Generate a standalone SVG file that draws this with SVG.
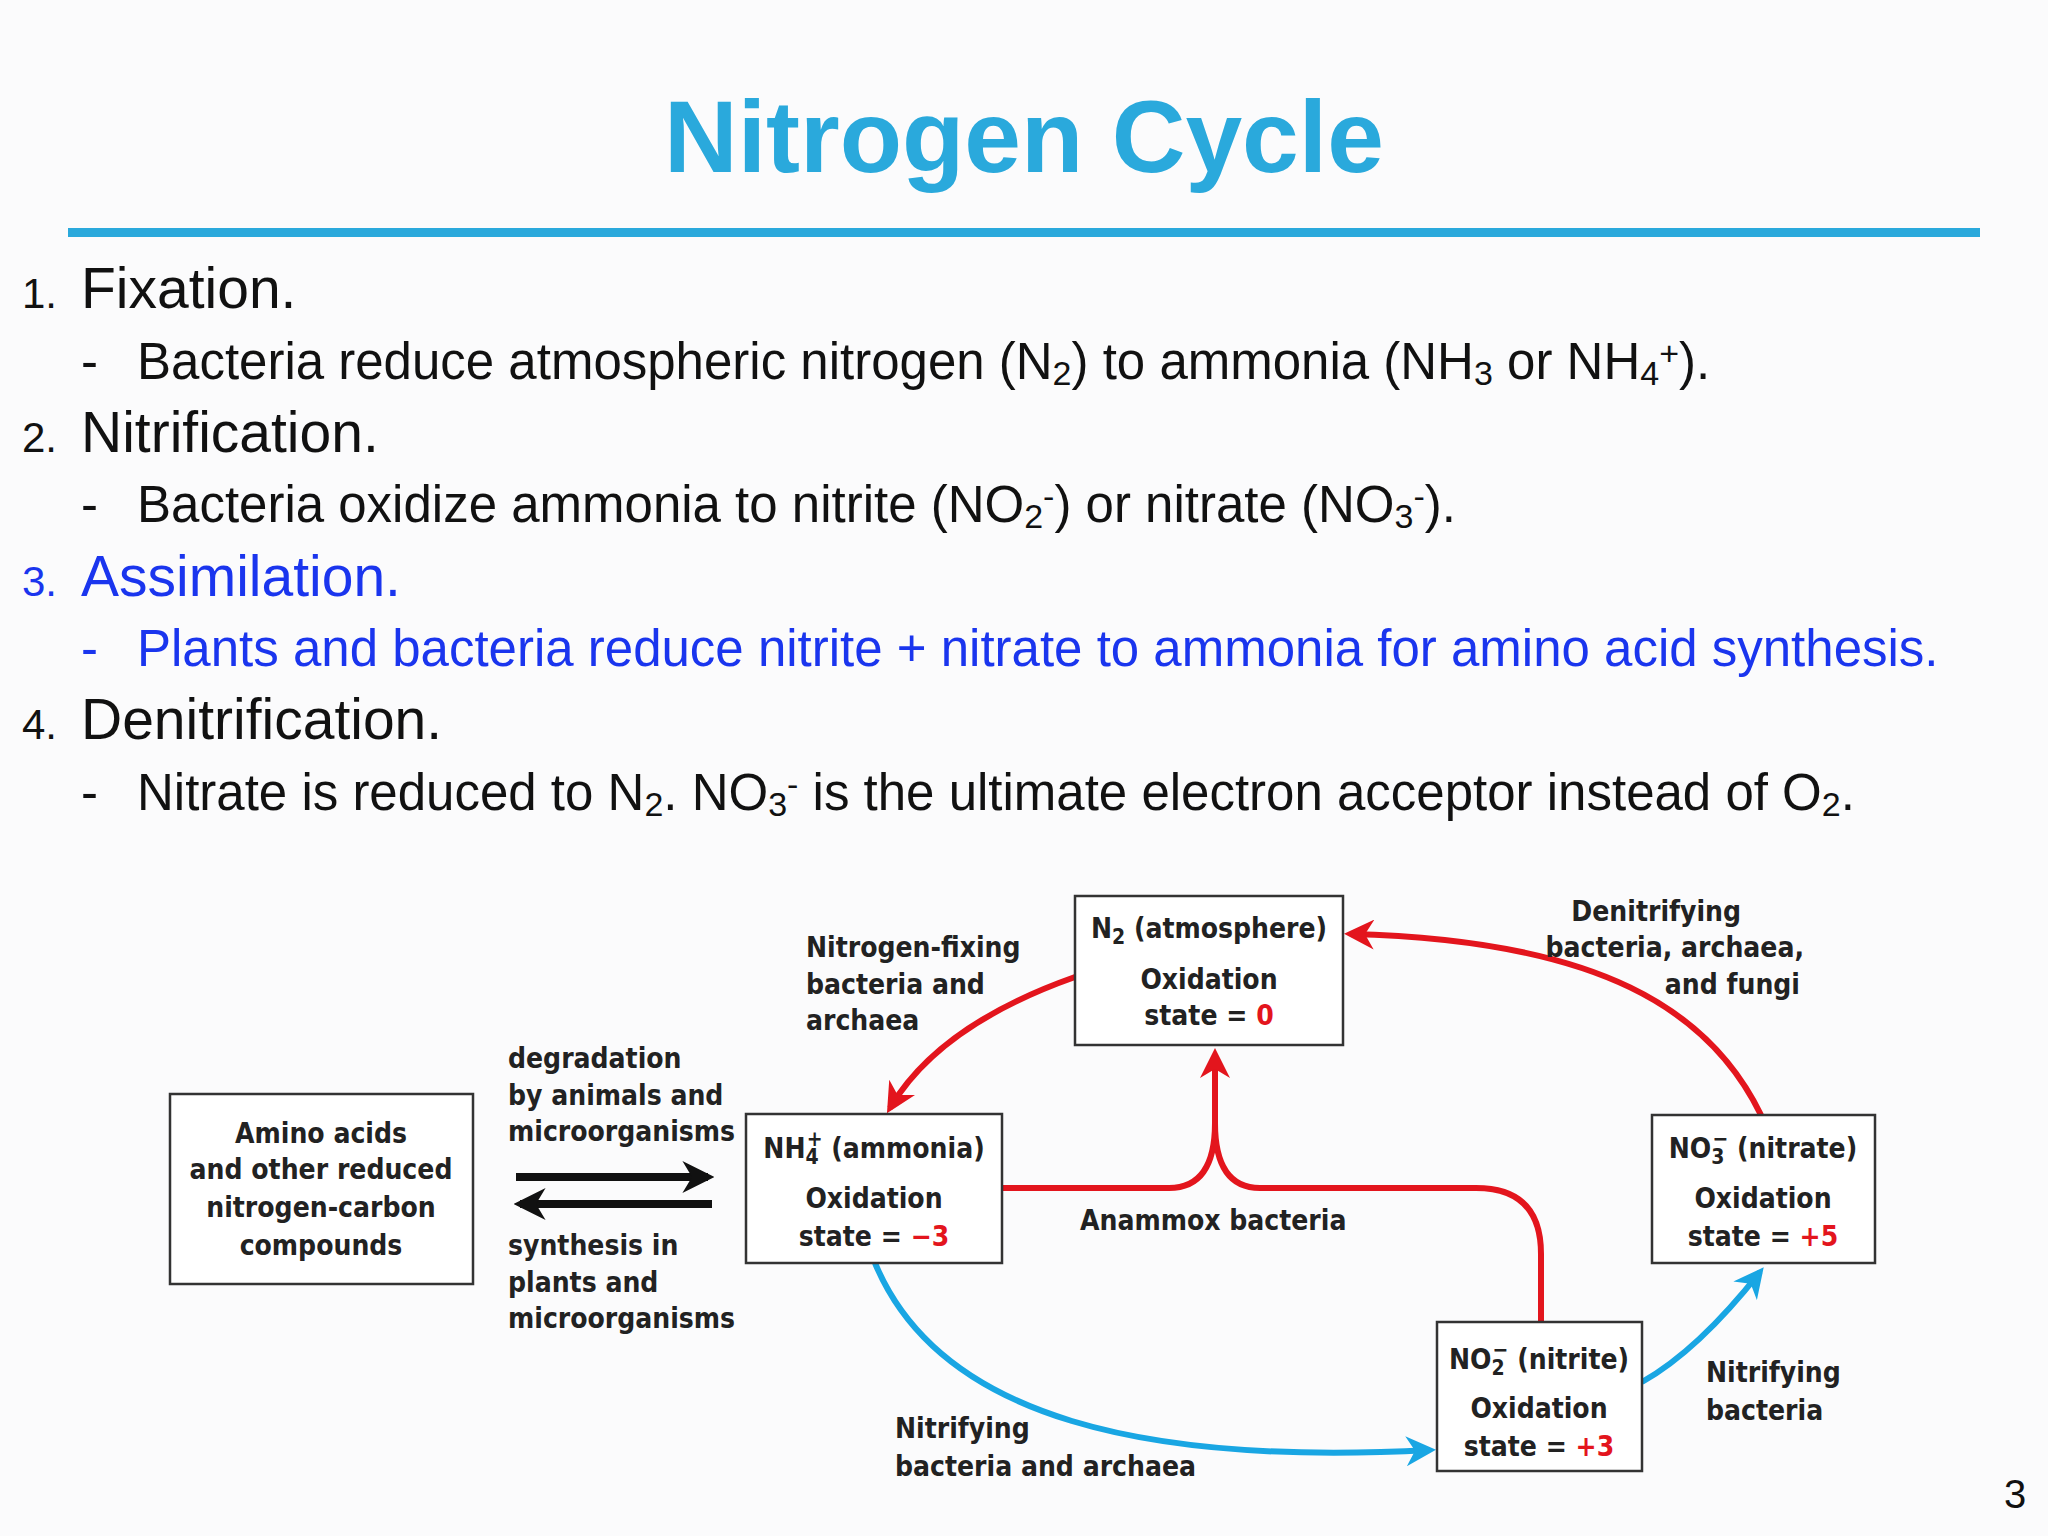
<svg xmlns="http://www.w3.org/2000/svg" width="2048" height="1536" viewBox="0 0 2048 1536">
<style>
.t{font-family:"Liberation Sans",Arial,sans-serif;fill:#111}
.n{font-size:42px}
.h{font-size:57px}
.s{font-size:51px}
.bl{fill:#1a35ee}
.d{font-family:"DejaVu Sans Condensed","Liberation Sans",sans-serif;font-weight:bold;font-size:28px;fill:#222}
.r{fill:#e3151d}
.box{fill:#fff;stroke:#333;stroke-width:2.5}
.red{fill:none;stroke:#e3151d;stroke-width:6}
.blue{fill:none;stroke:#19a6e3;stroke-width:6}
</style>
<defs>
<marker id="ar" viewBox="0 0 10 10" refX="8" refY="5" markerWidth="5" markerHeight="5" orient="auto" markerUnits="strokeWidth"><path d="M0,0 L10,5 L0,10 L3,5 Z" fill="#e3151d"/></marker>
<marker id="ab" viewBox="0 0 10 10" refX="8" refY="5" markerWidth="5" markerHeight="5" orient="auto" markerUnits="strokeWidth"><path d="M0,0 L10,5 L0,10 L3,5 Z" fill="#19a6e3"/></marker>
<marker id="ak" viewBox="0 0 10 10" refX="8" refY="5" markerWidth="4" markerHeight="4" orient="auto" markerUnits="strokeWidth"><path d="M0,0 L10,5 L0,10 L3,5 Z" fill="#111"/></marker>
</defs>
<rect width="2048" height="1536" fill="#fbfbfc"/>
<text x="1024" y="172" text-anchor="middle" style="font-family:'Liberation Sans',Arial,sans-serif;font-weight:bold;font-size:102px;fill:#2aa9dc">Nitrogen Cycle</text>
<rect x="68" y="228" width="1912" height="9" fill="#2aa9dc"/>
<g id="list">
<text class="t n" x="22" y="308">1.</text><text class="t h" x="81" y="308">Fixation.</text>
<text class="t s" x="81" y="379">-</text><text class="t s" x="137" y="379">Bacteria reduce atmospheric nitrogen (N<tspan font-size="34" dy="6">2</tspan><tspan dy="-6">) to ammonia (NH</tspan><tspan font-size="34" dy="6">3</tspan><tspan dy="-6"> or NH</tspan><tspan font-size="34" dy="6">4</tspan><tspan font-size="34" dy="-20">+</tspan><tspan dy="14">).</tspan></text>
<text class="t n" x="22" y="452">2.</text><text class="t h" x="81" y="452">Nitrification.</text>
<text class="t s" x="81" y="522">-</text><text class="t s" x="137" y="522">Bacteria oxidize ammonia to nitrite (NO<tspan font-size="34" dy="6">2</tspan><tspan font-size="34" dy="-20">-</tspan><tspan dy="14">) or nitrate (NO</tspan><tspan font-size="34" dy="6">3</tspan><tspan font-size="34" dy="-20">-</tspan><tspan dy="14">).</tspan></text>
<text class="t n bl" x="22" y="596">3.</text><text class="t h bl" x="81" y="596">Assimilation.</text>
<text class="t s bl" x="81" y="666">-</text><text class="t s bl" x="137" y="666">Plants and bacteria reduce nitrite + nitrate to ammonia for amino acid synthesis.</text>
<text class="t n" x="22" y="739">4.</text><text class="t h" x="81" y="739">Denitrification.</text>
<text class="t s" x="81" y="810">-</text><text class="t s" x="137" y="810">Nitrate is reduced to N<tspan font-size="34" dy="6">2</tspan><tspan dy="-6">. NO</tspan><tspan font-size="34" dy="6">3</tspan><tspan font-size="34" dy="-20">-</tspan><tspan dy="14"> is the ultimate electron acceptor instead of O</tspan><tspan font-size="34" dy="6">2</tspan><tspan dy="-6">.</tspan></text>
</g>
<g id="connectors">
<path class="red" d="M1075,977 C1010,1000 930,1040 890,1108" marker-end="url(#ar)"/>
<path class="red" d="M1761,1115 C1710,1010 1600,940 1350,934" marker-end="url(#ar)"/>
<path class="red" d="M1002,1188 H1169 Q1215,1188 1215,1123 V1054" marker-end="url(#ar)"/>
<path class="red" d="M1215,1123 Q1215,1188 1260,1188 H1476 Q1541,1188 1541,1254 V1322"/>
<path class="blue" d="M875,1263 C940,1420 1150,1465 1430,1450" marker-end="url(#ab)"/>
<path class="blue" d="M1642,1382 C1690,1355 1730,1310 1760,1272" marker-end="url(#ab)"/>
<line x1="516" y1="1177" x2="708" y2="1177" stroke="#111" stroke-width="8" marker-end="url(#ak)"/>
<line x1="712" y1="1204" x2="520" y2="1204" stroke="#111" stroke-width="8" marker-end="url(#ak)"/>
</g>
<g id="amino"><rect class="box" x="170" y="1094" width="303" height="190"/>
<text class="d" text-anchor="middle" x="321"><tspan x="321" y="1143">Amino acids</tspan><tspan x="321" y="1179">and other reduced</tspan><tspan x="321" y="1217">nitrogen-carbon</tspan><tspan x="321" y="1255">compounds</tspan></text></g>
<g id="nh4"><rect class="box" x="746" y="1114" width="256" height="149"/>
<text class="d" text-anchor="middle" x="874" y="1158">NH<tspan font-size="21" dy="6">4</tspan><tspan font-size="21" dx="-12" dy="-18">+</tspan><tspan dy="12"> (ammonia)</tspan></text>
<text class="d" text-anchor="middle" x="874" y="1208">Oxidation</text>
<text class="d" text-anchor="middle" x="874" y="1246">state = <tspan class="r">−3</tspan></text></g>
<g id="n2"><rect class="box" x="1075" y="896" width="268" height="149"/>
<text class="d" text-anchor="middle" x="1209" y="938">N<tspan font-size="21" dy="6">2</tspan><tspan dy="-6"> (atmosphere)</tspan></text>
<text class="d" text-anchor="middle" x="1209" y="989">Oxidation</text>
<text class="d" text-anchor="middle" x="1209" y="1025">state = <tspan class="r">0</tspan></text></g>
<g id="no3"><rect class="box" x="1652" y="1115" width="223" height="148"/>
<text class="d" text-anchor="middle" x="1763" y="1158">NO<tspan font-size="21" dy="6">3</tspan><tspan font-size="21" dx="-12" dy="-18">−</tspan><tspan dy="12"> (nitrate)</tspan></text>
<text class="d" text-anchor="middle" x="1763" y="1208">Oxidation</text>
<text class="d" text-anchor="middle" x="1763" y="1246">state = <tspan class="r">+5</tspan></text></g>
<g id="no2"><rect class="box" x="1437" y="1322" width="205" height="149"/>
<text class="d" text-anchor="middle" x="1539" y="1369">NO<tspan font-size="21" dy="6">2</tspan><tspan font-size="21" dx="-12" dy="-18">−</tspan><tspan dy="12"> (nitrite)</tspan></text>
<text class="d" text-anchor="middle" x="1539" y="1418">Oxidation</text>
<text class="d" text-anchor="middle" x="1539" y="1456">state = <tspan class="r">+3</tspan></text></g>
<g id="labels">
<text class="d"><tspan x="806" y="957">Nitrogen-fixing</tspan><tspan x="806" y="994">bacteria and</tspan><tspan x="806" y="1030">archaea</tspan></text>
<text class="d" text-anchor="end"><tspan x="1741" y="921">Denitrifying</tspan><tspan x="1804" y="957">bacteria, archaea,</tspan><tspan x="1800" y="994">and fungi</tspan></text>
<text class="d"><tspan x="508" y="1068">degradation</tspan><tspan x="508" y="1105">by animals and</tspan><tspan x="508" y="1141">microorganisms</tspan></text>
<text class="d"><tspan x="508" y="1255">synthesis in</tspan><tspan x="508" y="1292">plants and</tspan><tspan x="508" y="1328">microorganisms</tspan></text>
<text class="d" x="1080" y="1230">Anammox bacteria</text>
<text class="d"><tspan x="895" y="1438">Nitrifying</tspan><tspan x="895" y="1476">bacteria and archaea</tspan></text>
<text class="d"><tspan x="1706" y="1382">Nitrifying</tspan><tspan x="1706" y="1420">bacteria</tspan></text>
</g>
<text class="t" x="2004" y="1508" style="font-size:40px">3</text>
</svg>
